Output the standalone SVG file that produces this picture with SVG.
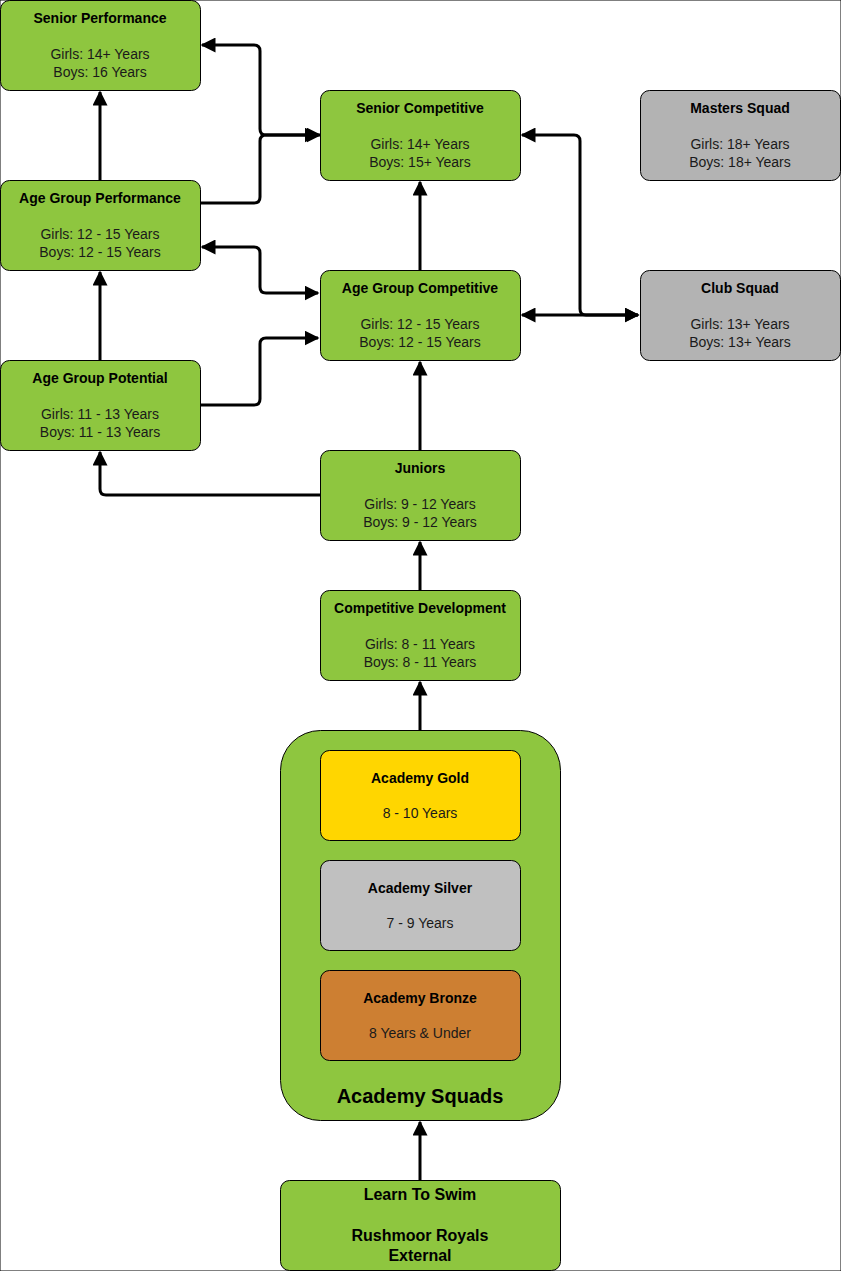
<svg xmlns="http://www.w3.org/2000/svg" width="841" height="1271" viewBox="0 0 841 1271">
<defs>
<marker id="a" viewBox="0 0 10 10" refX="9" refY="5" markerWidth="5" markerHeight="5" orient="auto-start-reverse" markerUnits="strokeWidth"><path d="M0,0 L10,5 L0,10 z" fill="#000"/></marker>
<style>
rect{stroke:#000;stroke-width:1}
.g{fill:#8EC63F}.x{fill:#B3B3B3}
text{font-family:"Liberation Sans",Arial,sans-serif;font-size:14px;text-anchor:middle;fill:#1a1a1a}
.b{font-weight:bold;fill:#000}
.c path{fill:none;stroke:#000;stroke-width:3;stroke-linejoin:round}
</style>
</defs>
<rect x="0" y="0" width="841" height="1271" fill="#fff" stroke="none"/>
<g class="c">
<path d="M320,135 H266 Q260,135 260,129 V51 Q260,45 254,45 H202" marker-start="url(#a)" marker-end="url(#a)"/>
<path d="M200,203 H254 Q260,203 260,197 V141 Q260,135 266,135 H318" marker-end="url(#a)"/>
<path d="M202,247 H254 Q260,247 260,253 V287 Q260,293 266,293 H318" marker-start="url(#a)" marker-end="url(#a)"/>
<path d="M200,405 H254 Q260,405 260,399 V344 Q260,338 266,338 H318" marker-end="url(#a)"/>
<path d="M522,135 H574 Q580,135 580,141 V309 Q580,315 586,315 H638" marker-start="url(#a)" marker-end="url(#a)"/>
<path d="M522,315 H638" marker-start="url(#a)" marker-end="url(#a)"/>
<path d="M320,495 H106 Q100,495 100,489 V452" marker-end="url(#a)"/>
<path d="M100,360 V272" marker-end="url(#a)"/>
<path d="M100,180 V92" marker-end="url(#a)"/>
<path d="M420,270 V182" marker-end="url(#a)"/>
<path d="M420,450 V362" marker-end="url(#a)"/>
<path d="M420,590 V542" marker-end="url(#a)"/>
<path d="M420,730 V682" marker-end="url(#a)"/>
<path d="M420,1180 V1122" marker-end="url(#a)"/>
</g>
<g id="senior-performance"><rect class="g" x="0.5" y="0.5" width="200" height="90" rx="9"/><text class="b" x="100" y="23">Senior Performance</text><text x="100" y="59">Girls: 14+ Years</text><text x="100" y="77">Boys: 16 Years</text></g>
<g id="age-group-performance"><rect class="g" x="0.5" y="180.5" width="200" height="90" rx="9"/><text class="b" x="100" y="203">Age Group Performance</text><text x="100" y="239">Girls: 12 - 15 Years</text><text x="100" y="257">Boys: 12 - 15 Years</text></g>
<g id="age-group-potential"><rect class="g" x="0.5" y="360.5" width="200" height="90" rx="9"/><text class="b" x="100" y="383">Age Group Potential</text><text x="100" y="419">Girls: 11 - 13 Years</text><text x="100" y="437">Boys: 11 - 13 Years</text></g>
<g id="senior-competitive"><rect class="g" x="320.5" y="90.5" width="200" height="90" rx="9"/><text class="b" x="420" y="113">Senior Competitive</text><text x="420" y="149">Girls: 14+ Years</text><text x="420" y="167">Boys: 15+ Years</text></g>
<g id="age-group-competitive"><rect class="g" x="320.5" y="270.5" width="200" height="90" rx="9"/><text class="b" x="420" y="293">Age Group Competitive</text><text x="420" y="329">Girls: 12 - 15 Years</text><text x="420" y="347">Boys: 12 - 15 Years</text></g>
<g id="juniors"><rect class="g" x="320.5" y="450.5" width="200" height="90" rx="9"/><text class="b" x="420" y="473">Juniors</text><text x="420" y="509">Girls: 9 - 12 Years</text><text x="420" y="527">Boys: 9 - 12 Years</text></g>
<g id="competitive-development"><rect class="g" x="320.5" y="590.5" width="200" height="90" rx="9"/><text class="b" x="420" y="613">Competitive Development</text><text x="420" y="649">Girls: 8 - 11 Years</text><text x="420" y="667">Boys: 8 - 11 Years</text></g>
<g id="masters-squad"><rect class="x" x="640.5" y="90.5" width="200" height="90" rx="9"/><text class="b" x="740" y="113">Masters Squad</text><text x="740" y="149">Girls: 18+ Years</text><text x="740" y="167">Boys: 18+ Years</text></g>
<g id="club-squad"><rect class="x" x="640.5" y="270.5" width="200" height="90" rx="9"/><text class="b" x="740" y="293">Club Squad</text><text x="740" y="329">Girls: 13+ Years</text><text x="740" y="347">Boys: 13+ Years</text></g>
<g id="academy-squads"><rect class="g" x="280.5" y="730.5" width="280" height="390" rx="40"/><text class="b" x="420" y="1103" style="font-size:20px">Academy Squads</text></g>
<g id="academy-gold"><rect x="320.5" y="750.5" width="200" height="90" rx="9" fill="#FFD600"/><text class="b" x="420" y="783">Academy Gold</text><text x="420" y="818">8 - 10 Years</text></g>
<g id="academy-silver"><rect x="320.5" y="860.5" width="200" height="90" rx="9" fill="#C0C0C0"/><text class="b" x="420" y="893">Academy Silver</text><text x="420" y="928">7 - 9 Years</text></g>
<g id="academy-bronze"><rect x="320.5" y="970.5" width="200" height="90" rx="9" fill="#CD7F32"/><text class="b" x="420" y="1003">Academy Bronze</text><text x="420" y="1038">8 Years &amp; Under</text></g>
<g id="learn-to-swim"><rect class="g" x="280.5" y="1180.5" width="280" height="90" rx="9"/><text class="b" x="420" y="1200" style="font-size:16px">Learn To Swim</text><text class="b" x="420" y="1241" style="font-size:16px">Rushmoor Royals</text><text class="b" x="420" y="1261" style="font-size:16px">External</text></g>
</svg>
